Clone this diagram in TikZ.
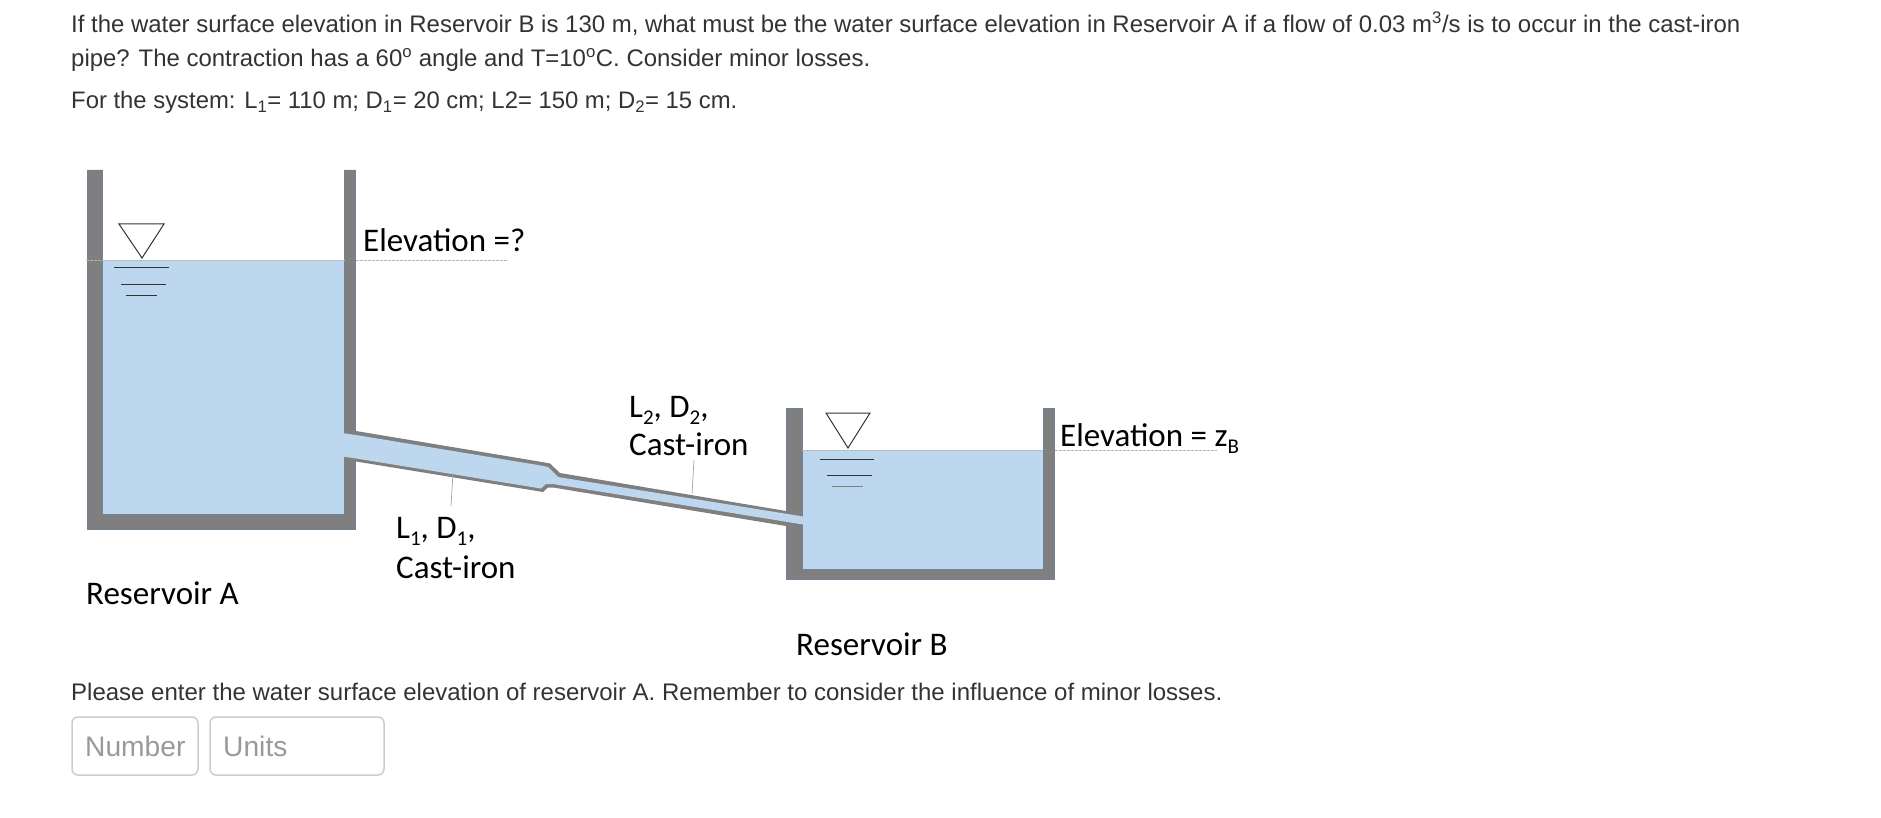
\documentclass[tikz,border=0pt]{standalone}
\usepackage{fontspec}
\setmainfont{Liberation Sans}
\newfontfamily\figfont{Carlito}
\definecolor{wallgray}{HTML}{7F7F7F}
\definecolor{wateblue}{HTML}{BDD7EE}
\definecolor{edgeblue}{HTML}{6F8296}
\definecolor{bodytext}{HTML}{333333}
\definecolor{hinttext}{HTML}{999999}
\definecolor{boxedge}{HTML}{CCCCCC}
\definecolor{dashgray}{HTML}{B5B5B5}
\newcommand{\lowsub}[1]{\raisebox{-7pt}{\fontsize{21}{21}\selectfont #1}}
\tikzset{
  x=1pt,y=-1pt,
  wall/.style={fill=wallgray,draw=edgeblue,line width=0.5pt},
  water/.style={fill=wateblue,draw=none},
  symline/.style={draw=black!80,line width=1pt},
  level/.style={draw=dashgray,line width=0.8pt,dash pattern=on 2.5pt off 1.5pt},
  leader/.style={draw=gray!70,line width=0.7pt},
  body/.style={anchor=base west,inner sep=0pt,text=bodytext,font=\fontsize{24}{28}\selectfont},
  bodytop/.style={body,font=\fontsize{23.96}{28}\selectfont},
  bodysys/.style={body,font=\fontsize{23.85}{28}\selectfont},
  fig/.style={anchor=base west,inner sep=0pt,text=black,font=\figfont\fontsize{33}{39}\selectfont},
  inputbox/.style={draw=boxedge,line width=1.5pt,rounded corners=6pt},
  hint/.style={anchor=base west,inner sep=0pt,text=hinttext,font=\fontsize{28.2}{33}\selectfont},
}
\begin{document}
\begin{tikzpicture}
\useasboundingbox (0,0) rectangle (1881,818);
% problem text
\node[bodytop] (t1) at (71,33) {If the water surface elevation in Reservoir B is 130 m, what must be the water surface elevation in Reservoir A if a flow of 0.03 m\textsuperscript{3}/s is to occur in the cast-iron};
\node[bodytop] (t2) at (71,67) {pipe? The contraction has a 60\textsuperscript{o} angle and T=10\textsuperscript{o}C. Consider minor losses.};
\node[bodysys] (t3) at (71,109) {For the system: L\textsubscript{1}= 110 m; D\textsubscript{1}= 20 cm; L2= 150 m; D\textsubscript{2}= 15 cm.};
% water
\fill[water] (102.5,260) rectangle (344.5,514);
\fill[water] (802,450) rectangle (1043,569);
% reservoir A walls
\path[wall] (87,170) -- (102.5,170) -- (102.5,514) -- (344.5,514) -- (344.5,170) -- (355.5,170) -- (355.5,529) -- (87,529) -- cycle;
% reservoir B walls
\path[wall] (786,408) -- (802,408) -- (802,569) -- (1043,569) -- (1043,408) -- (1054.5,408) -- (1054.5,579) -- (786,579) -- cycle;
% pipe
\fill[wallgray] (345,430) -- (356,431) -- (542,462) -- (550,463.5) -- (560,473) -- (786,511) -- (802,514) -- (802,527) -- (786,526) -- (553,487.5) -- (548,487.5) -- (543,492) -- (356,461.5) -- (345,459) -- cycle;
\fill[water] (344,433.3) -- (356,435) -- (541,465.5) -- (548,467) -- (558,477) -- (803,516.5) -- (803,524.5) -- (553,484) -- (546,484) -- (541,488.5) -- (356,458.5) -- (344,456.7) -- cycle;
% level lines
\coordinate (la0) at (86,260); \coordinate (la1) at (103,260); \coordinate (la2) at (345,260); \coordinate (la3) at (507,260);
\coordinate (lb0) at (802,450); \coordinate (lb1) at (1043,450); \coordinate (lb2) at (1055,450); \coordinate (lb3) at (1217,450);
\draw[level] (la0) -- (la1);
\draw[level] (la1) -- (la2);
\draw[level] (356,260) -- (la3);
\draw[level] (lb0) -- (lb1);
\draw[level] (lb2) -- (lb3);
% water symbols
\draw[symline,line join=miter] (119,224) -- (164,224) -- (142,258) -- cycle;
\draw[symline] (114,268) -- (169,268);
\draw[symline] (121,284) -- (166,284);
\draw[symline] (126,295) -- (157,295);
\draw[symline,line join=miter] (826,413) -- (870,413) -- (848,448) -- cycle;
\draw[symline] (820,459) -- (874,459);
\draw[symline] (827,475) -- (872,475);
\draw[symline,draw=black!50] (832,486) -- (863,486);
% figure labels
\node[fig] (elA) at (363,252) {Elevation =?};
\node[fig] (elB) at (1060,446.5) {Elevation = z\lowsub{B}};
\node[fig] (resA) at (86,604) {Reservoir A};
\node[fig] (resB) at (796,655) {Reservoir B};
\node[fig] (l1) at (396,538) {L\lowsub{1}, D\lowsub{1},};
\node[fig] (c1) at (396,578) {Cast-iron};
\node[fig] (l2) at (629,417) {L\lowsub{2}, D\lowsub{2},};
\node[fig] (c2) at (629,455) {Cast-iron};
% leaders
\coordinate (a1) at (453,473); \coordinate (a2) at (451,506);
\coordinate (b1) at (694,460); \coordinate (b2) at (692,494);
\draw[leader] (a1) -- (a2);
\draw[leader] (b1) -- (b2);
% question
\node[body] (q) at (71,700) {Please enter the water surface elevation of reservoir A. Remember to consider the influence of minor losses.};
\draw[inputbox] (72,717) rectangle (198,775);
\draw[inputbox] (210,717) rectangle (384,775);
\node[hint] (num) at (85,756) {Number};
\node[hint] (uni) at (223,756) {Units};
\end{tikzpicture}
\end{document}
